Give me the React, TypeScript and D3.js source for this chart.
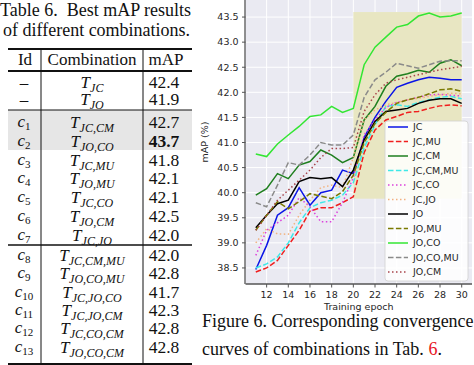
import * as React from 'react';
import * as d3 from 'd3';

// ---- chart data ----
const epochs = [11, 12, 13, 14, 15, 16, 17, 18, 19, 20, 21, 22, 23, 24, 25, 26, 27, 28, 29, 30];

const jc = [38.47, 38.95, 39.55, 39.70, 40.10, 39.75, 40.00, 40.05, 40.45, 40.38, 41.10, 41.50, 41.82, 42.10, 42.18, 42.25, 42.30, 42.28, 42.25, 42.25];
const jcMu = [38.42, 38.50, 38.65, 38.95, 39.25, 39.63, 39.70, 39.70, 39.80, 39.92, 40.80, 41.25, 41.45, 41.52, 41.60, 41.62, 41.68, 41.73, 41.75, 41.73];
const jcCm = [39.95, 40.08, 40.38, 40.28, 40.55, 40.62, 40.85, 40.75, 40.60, 40.70, 41.45, 41.72, 42.12, 42.32, 42.37, 42.44, 42.40, 42.58, 42.65, 42.53];
const jcCmMu = [38.50, 38.58, 38.72, 39.00, 39.40, 39.70, 39.80, 39.85, 39.95, 40.20, 40.90, 41.35, 41.72, 41.75, 41.72, 41.80, 41.85, 41.90, 41.92, 41.87];
const jcCo = [38.75, 39.25, 39.40, 39.55, 39.90, 39.72, 39.42, 39.42, 39.80, 40.30, 41.15, 41.45, 41.70, 41.80, 41.85, 41.90, 41.95, 41.96, 41.94, 41.93];
const jcJo = [39.00, 39.28, 39.18, 39.17, 39.55, 39.85, 40.10, 40.15, 40.10, 40.70, 41.45, 41.65, 41.75, 41.80, 41.85, 41.88, 41.92, 41.95, 41.98, 41.97];
const jo = [39.30, 39.55, 39.78, 39.85, 40.22, 40.30, 40.28, 40.30, 40.12, 40.45, 41.05, 41.42, 41.62, 41.65, 41.68, 41.78, 41.84, 41.87, 41.87, 41.78];
const joMu = [39.25, 39.55, 39.82, 39.68, 39.82, 39.98, 39.93, 39.88, 40.02, 40.35, 41.00, 41.38, 41.60, 41.78, 41.85, 41.90, 41.97, 42.05, 42.07, 42.02];
const joCo = [40.77, 40.72, 40.97, 41.15, 41.32, 41.52, 41.55, 41.72, 41.60, 41.68, 42.55, 42.90, 43.10, 43.30, 43.35, 43.52, 43.58, 43.50, 43.52, 43.58];
const joCoMu = [39.80, 39.72, 40.15, 40.60, 40.55, 40.75, 41.00, 40.95, 40.95, 41.15, 41.90, 42.25, 42.40, 42.58, 42.53, 42.48, 42.55, 42.62, 42.63, 42.63];
const joCm = [39.25, 39.55, 39.85, 40.05, 40.25, 40.45, 40.70, 40.88, 40.88, 40.90, 41.62, 41.95, 42.18, 42.25, 42.30, 42.35, 42.40, 42.45, 42.48, 42.52];

const seriesNames = ['JC', 'JC,MU', 'JC,CM', 'JC,CM,MU', 'JC,CO', 'JC,JO', 'JO', 'JO,MU', 'JO,CO', 'JO,CO,MU', 'JO,CM'];
const seriesValues = [jc, jcMu, jcCm, jcCmMu, jcCo, jcJo, jo, joMu, joCo, joCoMu, joCm];

const xTicks = [12, 14, 16, 18, 20, 22, 24, 26, 28, 30];
const yTicks = [38.5, 39.0, 39.5, 40.0, 40.5, 41.0, 41.5, 42.0, 42.5, 43.0, 43.5];
const shadedEpochs = [20, 30];
const shadedMap = [39.88, 43.6];

// ---- table data ----
const tableIds = ['–', '–', '1', '2', '3', '4', '5', '6', '7', '8', '9', '10', '11', '12', '13'];
const tableCombos = ['JC', 'JO', 'JC,CM', 'JO,CO', 'JC,MU', 'JO,MU', 'JC,CO', 'JO,CM', 'JC,JO',
  'JC,CM,MU', 'JO,CO,MU', 'JC,JO,CO', 'JC,JO,CM', 'JC,CO,CM', 'JO,CO,CM'];
const tableMap = ['42.4', '41.9', '42.7', '43.7', '41.8', '42.1', '42.1', '42.5', '42.0',
  '42.0', '42.8', '41.7', '42.3', '42.8', '42.8'];

const styles: { [k: string]: { color: string; dash: string } } = {
  'JC': { color: '#0a14e6', dash: '' },
  'JC,MU': { color: '#f01e1e', dash: '5.5,2.4' },
  'JC,CM': { color: '#1f7f1f', dash: '' },
  'JC,CM,MU': { color: '#3ee8e8', dash: '5.5,2.4' },
  'JC,CO': { color: '#dc40dc', dash: '1.5,2.5' },
  'JC,JO': { color: '#f2b27e', dash: '1.5,2.5' },
  'JO': { color: '#000000', dash: '' },
  'JO,MU': { color: '#7a7a00', dash: '5.5,2.4' },
  'JO,CO': { color: '#33e633', dash: '' },
  'JO,CO,MU': { color: '#8a8a8a', dash: '5.5,2.4' },
  'JO,CM': { color: '#a8434a', dash: '1.5,2.5' },
};

const serif = '"Liberation Serif", "Times New Roman", serif';
const sans = '"DejaVu Sans", sans-serif';

function rowY(i: number) {
  if (i < 2) return 81.7 + i * 17.3;
  if (i < 9) return 122 + (i - 2) * 18.8;
  return 255 + (i - 9) * 18.3;
}

function Table() {
  const left = 8, right = 192, v1 = 41, v2 = 143;
  return (
    <g fontFamily={serif} fill="#111">
      <text x={0} y={16} fontSize={18}>Table 6.{'\u00a0 '}Best mAP results</text>
      <text x={3} y={36} fontSize={18}>of different combinations.</text>
      <rect x={left} y={110} width={right - left} height={40} fill="#e6e6e6" />
      <line x1={left} x2={right} y1={49} y2={49} stroke="#111" strokeWidth={2} />
      <line x1={left} x2={right} y1={71} y2={71} stroke="#111" strokeWidth={2} />
      <line x1={left} x2={right} y1={110} y2={110} stroke="#111" strokeWidth={1} />
      <line x1={left} x2={right} y1={245} y2={245} stroke="#111" strokeWidth={1.3} />
      <line x1={left} x2={right} y1={364} y2={364} stroke="#111" strokeWidth={2} />
      <line x1={v1} x2={v1} y1={49} y2={364} stroke="#111" strokeWidth={1} />
      <line x1={v2} x2={v2} y1={49} y2={364} stroke="#111" strokeWidth={1} />
      <text x={25} y={65} fontSize={17} textAnchor="middle">Id</text>
      <text x={92} y={65} fontSize={17} textAnchor="middle">Combination</text>
      <text x={166} y={65} fontSize={17} textAnchor="middle">mAP</text>
      {tableCombos.map((c, i) => {
        const y = rowY(i) + 6;
        const id = tableIds[i];
        return (
          <g key={i}>
            {id === '–'
              ? <text x={24} y={y} fontSize={17} textAnchor="middle">–</text>
              : <text x={24} y={y - 1} fontSize={17} textAnchor="middle">
                  <tspan fontStyle="italic">c</tspan>
                  <tspan fontSize={11} dy={3}>{id}</tspan>
                </text>}
            <text x={92} y={y} fontSize={17} textAnchor="middle">
              <tspan fontStyle="italic">T</tspan>
              <tspan fontSize={12} dy={4} fontStyle="italic">{c}</tspan>
            </text>
            <text x={164} y={y} fontSize={17.5} textAnchor="middle"
              fontWeight={tableMap[i] === '43.7' ? 'bold' : 'normal'}>{tableMap[i]}</text>
          </g>
        );
      })}
    </g>
  );
}

function Chart() {
  const x = d3.scaleLinear().domain([10.05, 30.95]).range([245.5, 472]);
  const y = d3.scaleLinear().domain([38.18, 43.84]).range([284, 0]);
  const [x0, x1] = x.range();
  const [y0, y1] = [y.range()[1], y.range()[0]];
  const line = d3.line<number>().x((_, i) => x(epochs[i])).y(d => y(d));
  const legX = 385, legY = 121;
  return (
    <g fontFamily={sans}>
      <defs>
        <clipPath id="plotclip"><rect x={x0} y={y0} width={x1 - x0} height={y1 - y0} /></clipPath>
      </defs>
      <rect x={x0} y={y0} width={x1 - x0} height={y1 - y0} fill="#eaeaf2" />
      {yTicks.map(t => (
        <line key={'gy' + t} x1={x0} x2={x1} y1={y(t)} y2={y(t)} stroke="#fff" strokeWidth={1} />
      ))}
      {xTicks.map(t => (
        <line key={'gx' + t} x1={x(t)} x2={x(t)} y1={y0} y2={y1} stroke="#fff" strokeWidth={1} />
      ))}
      <rect x={x(shadedEpochs[0])} y={y(shadedMap[1])} width={x(shadedEpochs[1]) - x(shadedEpochs[0])}
        height={y(shadedMap[0]) - y(shadedMap[1])} fill="#e8e6c2" />
      <g clipPath="url(#plotclip)">
        {seriesValues.map((vals, k) => (
          <path key={seriesNames[k]} d={line(vals) || ''} fill="none"
            stroke={styles[seriesNames[k]].color} strokeWidth={1.5}
            strokeDasharray={styles[seriesNames[k]].dash || undefined} />
        ))}
      </g>
      <line x1={x0 - 0.5} x2={x0 - 0.5} y1={y0} y2={y1} stroke="#555" strokeWidth={1.3} />
      <line x1={x0} x2={x1} y1={y1} y2={y1} stroke="#555" strokeWidth={1.3} />
      {yTicks.map(t => (
        <g key={'ty' + t}>
          <line x1={x0 - 3.5} x2={x0} y1={y(t)} y2={y(t)} stroke="#555" strokeWidth={1} />
          <text x={x0 - 7} y={y(t)} dy="0.35em" fontSize={9.5} textAnchor="end" fill="#262626">{t.toFixed(1)}</text>
        </g>
      ))}
      {xTicks.map(t => (
        <g key={'tx' + t}>
          <line x1={x(t)} x2={x(t)} y1={y1} y2={y1 + 3.5} stroke="#555" strokeWidth={1} />
          <text x={x(t)} y={y1 + 14} fontSize={9.5} textAnchor="middle" fill="#262626">{t}</text>
        </g>
      ))}
      <text x={(x0 + x1) / 2} y={y1 + 26} fontSize={9.5} textAnchor="middle" fill="#262626">Training epoch</text>
      <text transform={`translate(208,${(y0 + y1) / 2}) rotate(-90)`} fontSize={9.5} textAnchor="middle"
        fill="#262626">mAP (%)</text>
      <rect x={legX} y={legY} width={83} height={160} rx={3} fill="#fff" fillOpacity={0.85} stroke="#d0d0d0" strokeWidth={0.8} />
      {seriesNames.map((n, i) => {
        const ly = legY + 6 + i * 14.5;
        return (
          <g key={'lg' + n}>
            <line x1={legX + 3} x2={legX + 23} y1={ly} y2={ly} stroke={styles[n].color} strokeWidth={1.5}
              strokeDasharray={styles[n].dash || undefined} />
            <text x={legX + 28} y={ly} dy="0.35em" fontSize={9.5} fill="#262626">{n}</text>
          </g>
        );
      })}
    </g>
  );
}

export default function App() {
  return (
    <svg width={474} height={365} viewBox="0 0 474 365"
      style={{ position: 'absolute', left: 0, top: 0, background: '#fff' }}>
      <Table />
      <Chart />
      <g fontFamily={serif} fontSize={18} fill="#111">
        <text x={202} y={327}>Figure 6. Corresponding convergence</text>
        <text x={202} y={355}>curves of combinations in Tab. <tspan fill="#e8141e">6</tspan>.</text>
      </g>
    </svg>
  );
}
